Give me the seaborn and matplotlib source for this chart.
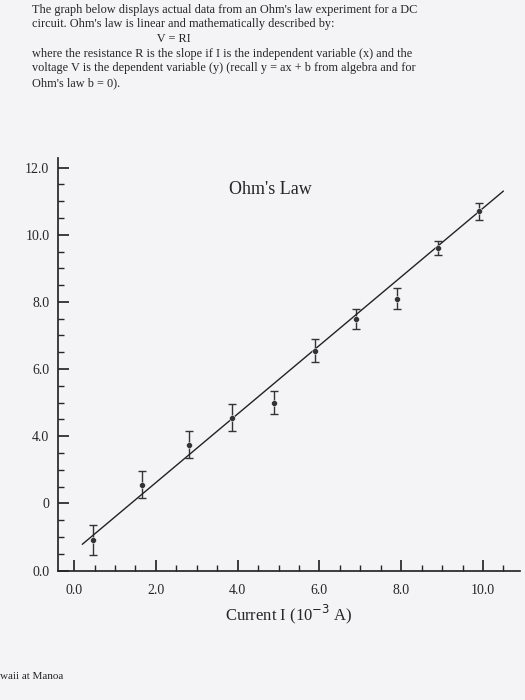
import matplotlib
matplotlib.use("Agg")
import matplotlib.pyplot as plt
import seaborn as sns
import numpy as np
import pandas as pd

current = [0.45, 1.65, 2.8, 3.85, 4.9, 5.9, 6.9, 7.9, 8.9, 9.9]
voltage = [0.9, 2.55, 3.75, 4.55, 5.0, 6.55, 7.5, 8.1, 9.6, 10.7]
v_err = [0.45, 0.4, 0.4, 0.4, 0.35, 0.35, 0.3, 0.3, 0.2, 0.25]
fit_x = [0.2, 10.5]
fit_y = [0.78, 11.3]
x_ticks = [0, 2, 4, 6, 8, 10]
x_labels = ["0.0", "2.0", "4.0", "6.0", "8.0", "10.0"]
y_ticks = [0, 2, 4, 6, 8, 10, 12]
y_labels = ["0.0", "0", "4.0", "6.0", "8.0", "10.0", "12.0"]

sns.set_theme(style="ticks")
plt.rcParams['font.family'] = ['Liberation Serif', 'DejaVu Serif']
fig = plt.figure(figsize=(5.25, 7.0), dpi=100)
fig.patch.set_facecolor("#f4f4f6")

intro = ("The graph below displays actual data from an Ohm's law experiment for a DC\n"
         "circuit. Ohm's law is linear and mathematically described by:\n"
         "                                        V = RI\n"
         "where the resistance R is the slope if I is the independent variable (x) and the\n"
         "voltage V is the dependent variable (y) (recall y = ax + b from algebra and for\n"
         "Ohm's law b = 0).")
fig.text(0.06, 0.995, intro, va="top", ha="left", fontsize=8.8, linespacing=1.3)

ax = fig.add_axes([0.11, 0.185, 0.88, 0.59])
ax.set_facecolor("#f4f4f6")
df = pd.DataFrame({"I": current, "V": voltage})
sns.scatterplot(data=df, x="I", y="V", ax=ax, color="#333333", s=18, zorder=3)
ax.errorbar(current, voltage, yerr=v_err, fmt="none", ecolor="#333333", capsize=3, lw=1)
sns.lineplot(x=fit_x, y=fit_y, ax=ax, color="#222222", lw=1)
ax.set_xlim(-0.4, 10.9)
ax.set_ylim(0, 12.3)
ax.set_xticks(x_ticks)
ax.set_xticklabels(x_labels)
ax.set_yticks(y_ticks)
ax.set_yticklabels(y_labels)
ax.set_xticks(np.arange(0, 11, 0.5), minor=True)
ax.set_yticks(np.arange(0, 12.1, 0.5), minor=True)
ax.tick_params(direction="in", length=8, labelsize=10)
ax.tick_params(which="minor", direction="in", length=4)
ax.tick_params(axis="x", pad=10)
ax.tick_params(axis="y", pad=6)
ax.spines["top"].set_visible(False)
ax.spines["right"].set_visible(False)
ax.set_xlabel("Current I (10$^{-3}$ A)", fontsize=12)
ax.set_ylabel("")
ax.text(4.8, 11.2, "Ohm's Law", fontsize=13, ha="center")
fig.text(0.0, 0.03, "waii at Manoa", fontsize=8)
fig.savefig("out.png", dpi=100, facecolor=fig.get_facecolor())
